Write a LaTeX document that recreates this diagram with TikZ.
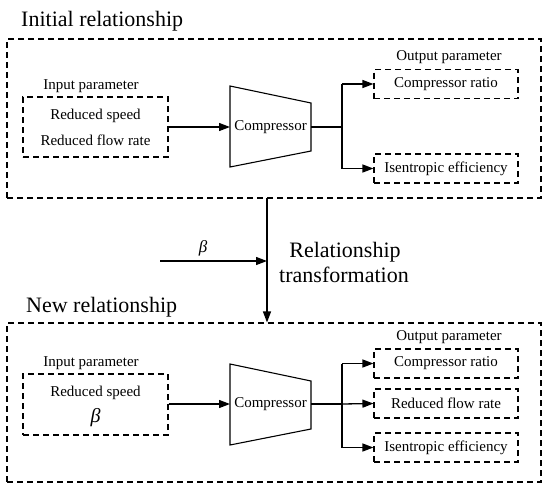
\documentclass[tikz,border=0pt]{standalone}
\usepackage{fontspec}
\setmainfont{Liberation Serif}
\usetikzlibrary{arrows.meta}
\begin{document}
\begin{tikzpicture}[x=1pt,y=-1pt,
  outer/.style={draw,dash pattern=on 6pt off 4pt,line width=1.1pt},
  dbox/.style={draw,dash pattern=on 6pt off 4pt,line width=1.1pt,inner sep=0pt,font=\fontsize{15}{17}\selectfont,align=center},
  lbl/.style={inner sep=0pt,font=\fontsize{15}{17}\selectfont},
  big/.style={inner sep=0pt,font=\fontsize{22}{25}\selectfont},
  conn/.style={line width=1.3pt},
  arr/.style={line width=1.3pt,-{Triangle[length=11pt,width=8pt]}},
  comp/.style={line width=1.1pt}]
\useasboundingbox (0,0) rectangle (550,491);
% ---------- top ----------
\node[big,anchor=base west] (t1) at (21,26) {Initial relationship};
\node[outer,minimum width=534pt,minimum height=159pt,inner sep=0pt] (box1) at (274,118.5) {};
\node[lbl] (il1) at (91,86) {Input parameter};
\node[dbox,minimum width=145pt,minimum height=60pt] (in1) at (95.5,127) {};
\node[lbl] (in1a) at (95.5,116) {Reduced speed};
\node[lbl] (in1b) at (95.5,140) {Reduced flow rate};
\draw[comp] (230,86) -- (311,103) -- (311,151) -- (230,167) -- cycle;
\node[lbl] (c1) at (270.5,127) {Compressor};
\coordinate (c1w) at (230,127);
\coordinate (c1e) at (311,127);
\coordinate (b1) at (342,127);
\coordinate (b1t) at (342,84);
\coordinate (b1b) at (342,168.5);
\node[lbl] (ol1) at (449,57) {Output parameter};
\node[dbox,minimum width=144pt,minimum height=29pt] (o1a) at (446,84) {Compressor ratio};
\node[dbox,minimum width=144pt,minimum height=29pt] (o1b) at (446,168.5) {Isentropic efficiency};
\draw[arr] (in1.east |- c1w) -- (c1w);
\draw[conn] (c1e) -- (b1);
\draw[conn] (b1t) -- (b1b);
\draw[arr] (b1t) -- (o1a.west);
\draw[arr] (b1b) -- (o1b.west);
% ---------- middle ----------
\node[outer,minimum width=534pt,minimum height=159pt,inner sep=0pt] (box2) at (274,402.5) {};
\coordinate (vt) at (267,198);
\coordinate (vm) at (267,261);
\coordinate (hs) at (160,261);
\draw[arr] (vt) -- (vt |- box2.north);
\draw[arr] (hs) -- (vm);
\node[inner sep=0pt,font=\fontsize{17}{20}\selectfont] (beta1) at (203,248) {\itshape β};
\node[big,anchor=base] (rt1) at (345,257) {Relationship};
\node[big,anchor=base] (rt2) at (344,282) {transformation};
\node[big,anchor=base west] (t2) at (26,312) {New relationship};
% ---------- bottom ----------
\node[lbl] (il2) at (91,363) {Input parameter};
\node[dbox,minimum width=145pt,minimum height=61pt] (in2) at (95.5,404.5) {};
\node[lbl] (in2a) at (95.5,393) {Reduced speed};
\node[inner sep=0pt,font=\fontsize{20}{22}\selectfont] (in2b) at (95.5,418) {\itshape β};
\draw[comp] (230,364) -- (311,381) -- (311,429) -- (230,445) -- cycle;
\node[lbl] (c2) at (270.5,404) {Compressor};
\coordinate (c2w) at (230,404);
\coordinate (c2e) at (311,404);
\coordinate (b2) at (342,404);
\coordinate (b2t) at (342,363.5);
\coordinate (b2b) at (342,447.5);
\node[lbl] (ol2) at (449,337) {Output parameter};
\node[dbox,minimum width=144pt,minimum height=29pt] (o2a) at (446,363.5) {Compressor ratio};
\node[dbox,minimum width=144pt,minimum height=29pt] (o2b) at (446,403.5) {Reduced flow rate};
\node[dbox,minimum width=144pt,minimum height=29pt] (o2c) at (446,447.5) {Isentropic efficiency};
\draw[arr] (in2.east |- c2w) -- (c2w);
\draw[conn] (c2e) -- (b2);
\draw[conn] (b2t) -- (b2b);
\draw[arr] (b2t) -- (o2a.west);
\draw[arr] (b2) -- (o2b.west);
\draw[arr] (b2b) -- (o2c.west);
\end{tikzpicture}
\end{document}
